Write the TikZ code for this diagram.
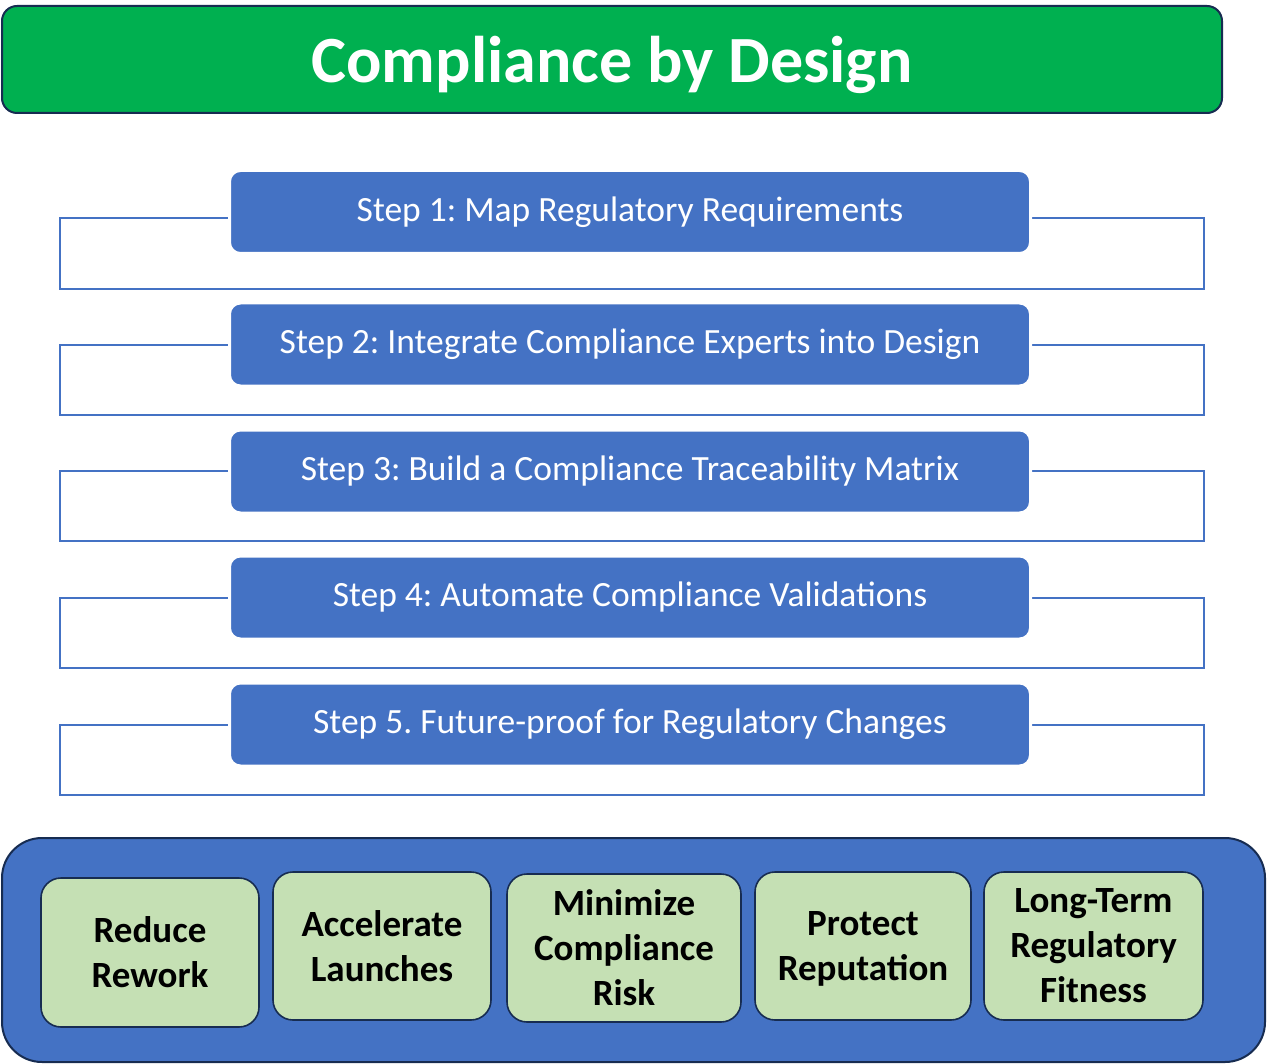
\documentclass[tikz,border=0pt]{standalone}
\usepackage{fontspec}
\setmainfont{Carlito}
\frenchspacing
\definecolor{tgreen}{HTML}{00B050}
\definecolor{sblue}{HTML}{4472C4}
\definecolor{lgreen}{HTML}{C5E0B4}
\definecolor{navy}{HTML}{172C51}
\tikzset{
  titlebox/.style={draw=navy, line width=2pt, fill=tgreen, rounded corners=15pt, minimum width=1220pt, minimum height=107pt, inner sep=0pt, outer sep=0pt, text depth=0pt, text=white, font=\fontsize{66}{76}\selectfont\bfseries},
  stepbox/.style={draw=white, line width=3pt, fill=sblue, rounded corners=11pt, minimum width=801pt, minimum height=83pt, inner sep=0pt, outer sep=0pt, text=white, font=\fontsize{35.5}{40}\selectfont},
  frame/.style={draw=sblue, line width=2pt},
  panel/.style={draw=navy, line width=2pt, fill=sblue, rounded corners=40pt},
  benefit/.style={draw=navy, line width=1.6pt, fill=lgreen, rounded corners=20pt, inner sep=0pt, outer sep=0pt, align=center, font=\fontsize{37}{45}\selectfont\bfseries, text=black}
}
\begin{document}
\begin{tikzpicture}[x=1pt,y=-1pt]
\useasboundingbox (0,0) rectangle (1268,1064);
% title
\node[titlebox] (title) at (612,59.5) {Compliance by Design};
% frames
\draw[frame] (60,218) rectangle (1204,289);
\draw[frame] (60,345) rectangle (1204,415);
\draw[frame] (60,471) rectangle (1204,541);
\draw[frame] (60,598) rectangle (1204,668);
\draw[frame] (60,725) rectangle (1204,795);
% steps
\node[stepbox] (s1) at (630,212) {Step 1: Map Regulatory Requirements};
\node[stepbox] (s2) at (630,344.5) {Step 2: Integrate Compliance Experts into Design};
\node[stepbox] (s3) at (630,471.5) {Step 3: Build a Compliance Traceability Matrix};
\node[stepbox] (s4) at (630,597.5) {Step 4: Automate Compliance Validations};
\node[stepbox] (s5) at (630,724.5) {Step 5. Future-proof for Regulatory Changes};
% bottom panel
\draw[panel] (2,838) rectangle (1265,1062);
\node[benefit, minimum width=218pt, minimum height=149pt] (b1) at (150,952.5) {Reduce\\Rework};
\node[benefit, minimum width=218pt, minimum height=148pt] (b2) at (382,946) {Accelerate\\Launches};
\node[benefit, minimum width=234pt, minimum height=148pt] (b3) at (624,948) {Minimize\\Compliance\\Risk};
\node[benefit, minimum width=216pt, minimum height=148pt] (b4) at (863,946) {Protect\\\smash{Reputation}};
\node[benefit, minimum width=219pt, minimum height=148pt] (b5) at (1093.5,946) {Long-Term\\Regulatory\\Fitness};
\end{tikzpicture}
\end{document}
